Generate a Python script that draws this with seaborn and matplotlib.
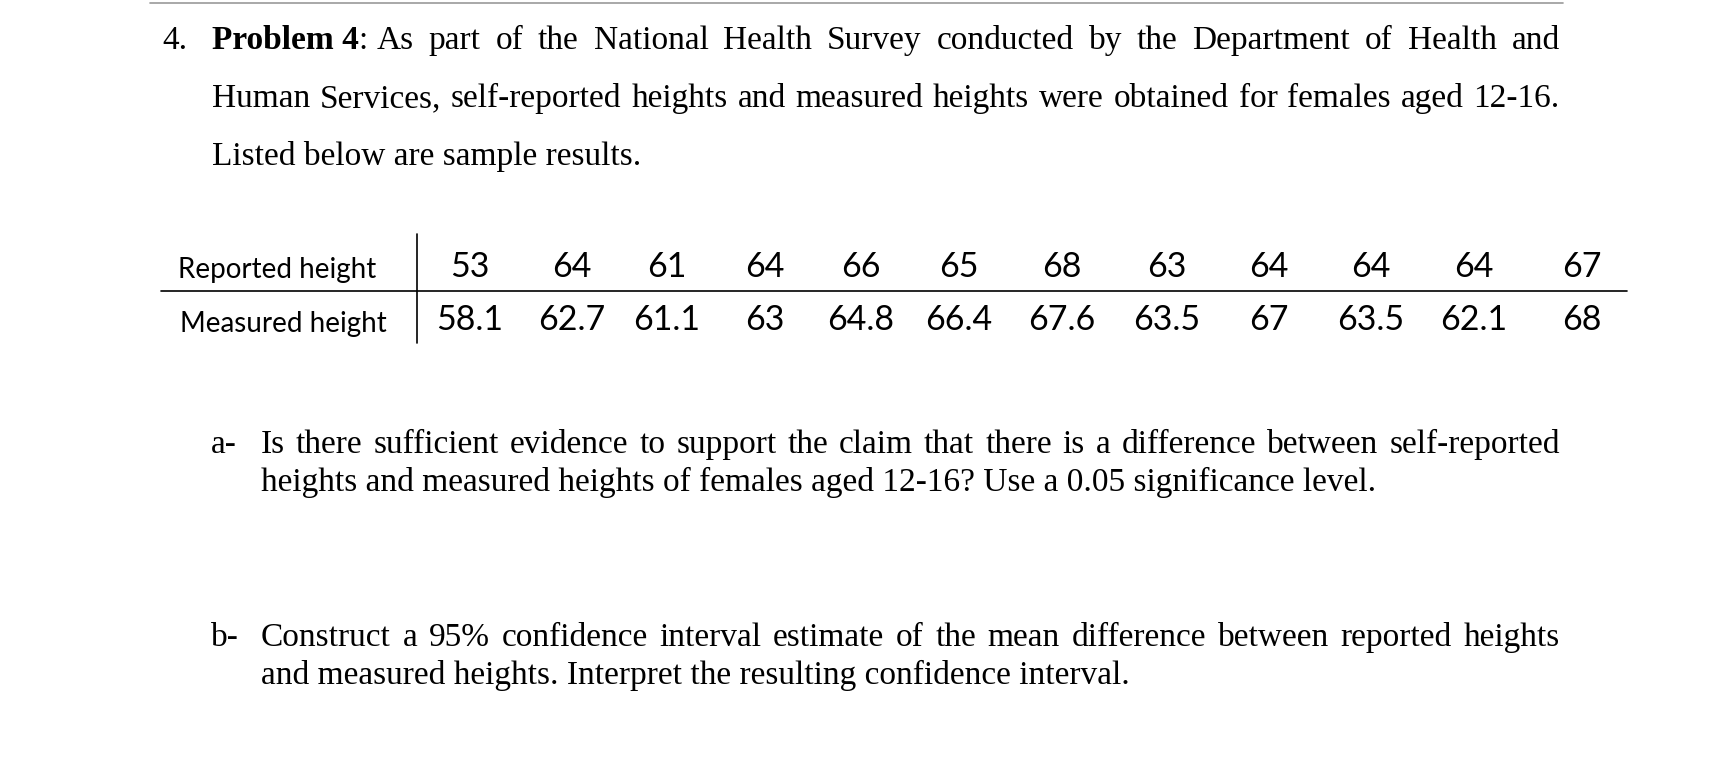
import matplotlib
matplotlib.use("Agg")
import matplotlib.pyplot as plt
import seaborn as sns

sns.set_theme(style="white")
plt.rcParams['font.family'] = ['Liberation Serif', 'DejaVu Sans']
plt.rcParams['text.color'] = 'black'

# table data
row_labels = ["Reported height", "Measured height"]
reported = ["53", "64", "61", "64", "66", "65", "68", "63", "64", "64", "64", "67"]
measured = ["58.1", "62.7", "61.1", "63", "64.8", "66.4", "67.6", "63.5", "67", "63.5", "62.1", "68"]

intro_lines = [
    ": As part of the National Health Survey conducted by the Department of Health and",
    "Human Services, self-reported heights and measured heights were obtained for females aged 12-16.",
    "Listed below are sample results.",
]
part_a = ["Is there sufficient evidence to support the claim that there is a difference between self-reported",
          "heights and measured heights of females aged 12-16? Use a 0.05 significance level."]
part_b = ["Construct a 95% confidence interval estimate of the mean difference between reported heights",
          "and measured heights. Interpret the resulting confidence interval."]

# layout (reference coordinates, 1560 x 711)
W, H = 1560, 711
col_x = [428, 521, 608, 697, 785, 874, 968, 1064, 1157, 1250, 1344, 1442]
serif_size = 24
table_size = 24.5
label_size = 20
sans = ["Lato", "DejaVu Sans"]

fig = plt.figure(figsize=(17.11, 7.8), dpi=100)
ax = fig.add_axes([0, 0, 1, 1])
ax.set_xlim(0, W)
ax.set_ylim(H, 0)
ax.axis("off")
renderer = fig.canvas.get_renderer()
scale = W / fig.get_size_inches()[0] / fig.dpi


def width_of(s, **kw):
    t = ax.text(0, 0, s, **kw)
    w = t.get_window_extent(renderer).width * scale
    t.remove()
    return w


def line(x0, y, s, x1=None, **kw):
    kw.setdefault("fontsize", serif_size)
    if x1 is None:
        ax.text(x0, y, s, va="center", ha="left", **kw)
        return
    words = [w for w in s.split(" ") if w]
    widths = [width_of(w, **kw) for w in words]
    gap = (x1 - x0 - sum(widths)) / max(len(words) - 1, 1)
    x = x0
    for w, wd in zip(words, widths):
        ax.text(x, y, w, va="center", ha="left", **kw)
        x += wd + gap


# top rule
ax.plot([137, 1425], [3, 3], color="#999999", lw=1.2)

# problem statement
ax.text(148, 37, "4.", fontsize=serif_size, va="center", ha="left")
ax.text(193, 37, "Problem 4", fontsize=serif_size, fontweight="bold", va="center", ha="left")
bw = width_of("Problem 4", fontsize=serif_size, fontweight="bold")
colon_w = width_of(":", fontsize=serif_size)
ax.text(193 + bw, 37, ":", fontsize=serif_size, va="center", ha="left")
line(193 + bw + colon_w + 8, 37, intro_lines[0][2:], x1=1422)
line(193, 90, intro_lines[1], x1=1422)
line(193, 143, intro_lines[2])

# table
ax.plot([380, 380], [213, 313], color="black", lw=1.2)
ax.plot([147, 1483], [265, 265], color="black", lw=1.2)
ax.text(253, 246, row_labels[0], fontsize=label_size, family=sans, ha="center", va="center")
ax.text(258, 295, row_labels[1], fontsize=label_size, family=sans, ha="center", va="center")
for x, r, m in zip(col_x, reported, measured):
    ax.text(x, 243, r, fontsize=table_size, family=sans, ha="center", va="center")
    ax.text(x, 292, m, fontsize=table_size, family=sans, ha="center", va="center")

# parts
ax.text(192, 405, "a-", fontsize=serif_size, va="center", ha="left")
line(238, 405, part_a[0], x1=1422)
line(238, 440, part_a[1])
ax.text(192, 581, "b-", fontsize=serif_size, va="center", ha="left")
line(238, 581, part_b[0], x1=1422)
line(238, 616, part_b[1])

fig.savefig("out.png", dpi=100, facecolor="white")
